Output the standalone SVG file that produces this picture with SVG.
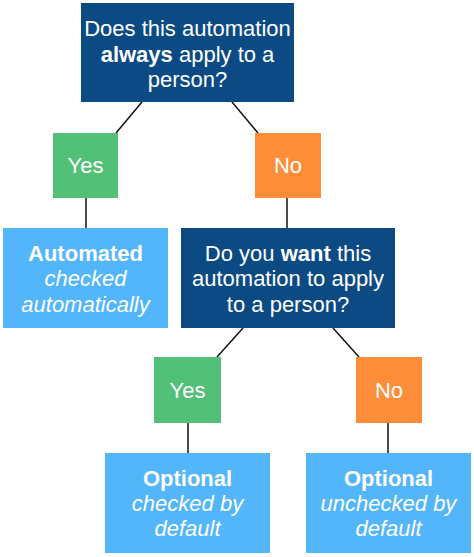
<svg xmlns="http://www.w3.org/2000/svg" width="474" height="557" viewBox="0 0 474 557">
<style>
text{font-family:"Liberation Sans",Arial,sans-serif;font-size:22px;fill:#fff;text-anchor:middle}
.b{font-weight:bold}
.i{font-style:italic}
.q{fill:#0C4A84}
.y{fill:#53C078}
.n{fill:#FE8D3A}
.r{fill:#53B5FA}
line{stroke:#111;stroke-width:1.5}
</style>
<rect width="474" height="557" fill="#fff"/>
<g id="connectors">
<line x1="142" y1="102" x2="116" y2="133"/>
<line x1="232" y1="102" x2="258" y2="133"/>
<line x1="86" y1="198" x2="86" y2="228"/>
<line x1="287" y1="198" x2="287" y2="228"/>
<line x1="243" y1="328" x2="217" y2="357"/>
<line x1="333" y1="328" x2="359" y2="357"/>
<line x1="188" y1="423" x2="188" y2="453"/>
<line x1="388" y1="423" x2="388" y2="453"/>
</g>
<g id="q1">
<rect class="q" x="81" y="3" width="213" height="99"/>
<text x="187.5" y="36">Does this automation</text>
<text x="187.5" y="62"><tspan class="b">always</tspan> apply to a</text>
<text x="187.5" y="87">person?</text>
</g>
<g id="yes1">
<rect class="y" x="53" y="133" width="65" height="65"/>
<text x="85.5" y="173">Yes</text>
</g>
<g id="no1">
<rect class="n" x="255" y="133" width="66" height="65"/>
<text x="288" y="173">No</text>
</g>
<g id="automated">
<rect class="r" x="3" y="228" width="165" height="100"/>
<text class="b" x="85.5" y="261">Automated</text>
<text class="i" x="85.5" y="286">checked</text>
<text class="i" x="85.5" y="312">automatically</text>
</g>
<g id="q2">
<rect class="q" x="181" y="228" width="214" height="100"/>
<text x="288" y="261">Do you <tspan class="b">want</tspan> this</text>
<text x="288" y="286">automation to apply</text>
<text x="288" y="312">to a person?</text>
</g>
<g id="yes2">
<rect class="y" x="154" y="357" width="67" height="66"/>
<text x="187.5" y="398">Yes</text>
</g>
<g id="no2">
<rect class="n" x="356" y="357" width="66" height="66"/>
<text x="389" y="398">No</text>
</g>
<g id="opt1">
<rect class="r" x="105" y="453" width="165" height="100"/>
<text class="b" x="187.5" y="486">Optional</text>
<text class="i" x="187.5" y="511">checked by</text>
<text class="i" x="187.5" y="536">default</text>
</g>
<g id="opt2">
<rect class="r" x="306" y="453" width="165" height="100"/>
<text class="b" x="388.5" y="486">Optional</text>
<text class="i" x="388.5" y="511">unchecked by</text>
<text class="i" x="388.5" y="536">default</text>
</g>
</svg>
